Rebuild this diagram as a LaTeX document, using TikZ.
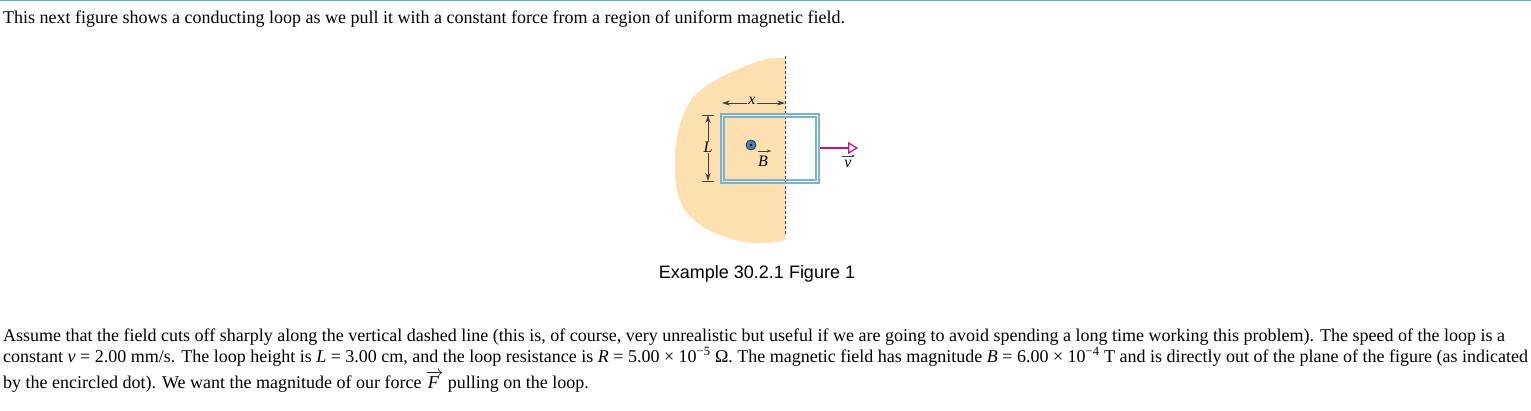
\documentclass[tikz,border=0pt]{standalone}
\usepackage{fontspec}
\setmainfont{Liberation Serif}
\newfontfamily\capfont{Liberation Sans}
\usetikzlibrary{arrows.meta}
\definecolor{blob}{RGB}{253,224,176}
\definecolor{loopc}{RGB}{120,180,210}
\definecolor{mag}{RGB}{200,20,120}
\definecolor{dotc}{RGB}{70,130,190}
\tikzset{txt/.style={anchor=base west,inner sep=0pt,font=\fontsize{18}{21}\selectfont},
dim/.style={{Stealth[length=8pt,width=5pt]}-{Stealth[length=8pt,width=5pt]},semithick,black!75},
lbl/.style={inner sep=1pt,font=\fontsize{16}{18}\selectfont\itshape}}
\begin{document}
\begin{tikzpicture}[x=1pt,y=-1pt]
\useasboundingbox (0,0) rectangle (1531,410);
\draw[teal!60,line width=0.8pt] (0,0.5) -- (1531,0.5);
\node[txt] (t1) at (3,23) {This next figure shows a conducting loop as we pull it with a constant force from a region of uniform magnetic field.};
% blob
\fill[blob] (785,58) -- (772,58) .. controls (750,62) and (710,80) .. (695,95)
 .. controls (678,115) and (672,150) .. (676,185) .. controls (680,215) and (700,230) .. (735,240)
 .. controls (755,245) and (775,243) .. (785,240) -- cycle;
\coordinate (dtop) at (785,56);
\coordinate (dbot) at (785,234);
\draw[dashed,dash pattern=on 3pt off 2pt,black!75] (dtop) -- (dbot);
% loop
\draw[loopc,line width=1.2pt] (721,114) rectangle (819,183);
\draw[loopc,line width=1.2pt] (724,117) rectangle (816,180);
\coordinate (xa) at (722,103); \coordinate (xb) at (785,103);
\draw[dim] (xa) -- (xb);
\node[lbl,fill=blob] (xl) at (752,101) {x};
\coordinate (la) at (708,115); \coordinate (lb) at (708,181);
\draw[dim] (la) -- (lb);
\draw[thin,black!75] (702,115) -- (714,115) (702,181) -- (714,181);
\node[lbl,fill=blob] (ll) at (708,147) {L};
\node[circle,draw=black!80,fill=dotc,minimum size=10pt,inner sep=0pt,line width=0.8pt] (dot) at (751,145) {};
\fill[black] (dot) circle (1.3pt);
\draw[-{Stealth[length=4pt]},black!75,thin] (758,151) -- (771,151);
\node[lbl] (bl) at (763,161) {B};
\coordinate (va) at (820,148); \coordinate (vb) at (858,148);
\draw[mag,line width=2.8pt,-{Triangle[open,length=10pt,width=12pt,line width=1.3pt]}] (va) -- (vb);
\draw[-{Stealth[length=3.5pt]},black!75,thin] (842,156) -- (855,156);
\node[lbl] (vl) at (848,164) {v};
\node[anchor=base,inner sep=0pt,font=\capfont\fontsize{18}{21}\selectfont] (cap) at (757,278) {Example 30.2.1 Figure 1};
\node[txt] (p1) at (3,341) {Assume that the field cuts off sharply along the vertical dashed line (this is, of course, very unrealistic but useful if we are going to avoid spending a long time working this problem). The speed of the loop is a};
\node[txt] (p2) at (3,362) {constant \textit{v} = 2.00 mm/s. The loop height is \textit{L} = 3.00 cm, and the loop resistance is \textit{R} = 5.00 × 10\textsuperscript{−5} Ω. The magnetic field has magnitude \textit{B} = 6.00 × 10\textsuperscript{−4} T and is directly out of the plane of the figure (as indicated};
\node[txt] (p3) at (3,388) {by the encircled dot). We want the magnitude of our force \ensuremath{\overrightarrow{\textit{F}\,}} pulling on the loop.};
\end{tikzpicture}
\end{document}
